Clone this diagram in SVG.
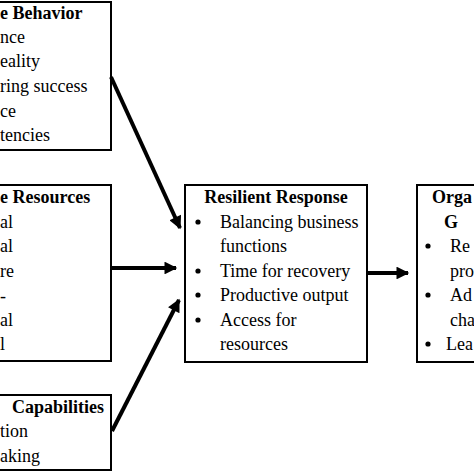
<svg xmlns="http://www.w3.org/2000/svg" width="474" height="474" viewBox="0 0 474 474">
<style>
.box{fill:#fff;stroke:#000;stroke-width:2}
.t{font-family:"Liberation Serif","Times New Roman",serif;font-size:18px;fill:#000}
.b{font-weight:bold}
.c{text-anchor:middle}
.bul{fill:#000}
.ar{stroke:#000;stroke-width:4;fill:none}
</style>
<defs>
<marker id="ah" viewBox="0 0 10 10" refX="9" refY="5" markerWidth="3.6" markerHeight="3.2" orient="auto" markerUnits="strokeWidth">
<path d="M0,0 L10,5 L0,10 Z" fill="#000"/>
</marker>
</defs>
<rect width="474" height="474" fill="#fff"/>
<g id="behavior">
<rect class="box" x="-10" y="2" width="121" height="148"/>
<text class="t b" x="0" y="19">e Behavior</text>
<text class="t" x="0" y="43">nce</text>
<text class="t" x="0" y="67">eality</text>
<text class="t" x="0" y="92">ring success</text>
<text class="t" x="0" y="117">ce</text>
<text class="t" x="0" y="141">tencies</text>
</g>
<g id="resources">
<rect class="box" x="-10" y="185" width="121" height="176"/>
<text class="t b" x="0" y="203">e Resources</text>
<text class="t" x="0" y="228">al</text>
<text class="t" x="0" y="252">al</text>
<text class="t" x="0" y="277">re</text>
<text class="t" x="0" y="302">-</text>
<text class="t" x="0" y="326">al</text>
<text class="t" x="0" y="350">l</text>
</g>
<g id="capabilities">
<rect class="box" x="-10" y="395" width="121" height="75"/>
<text class="t b" x="12" y="413">Capabilities</text>
<text class="t" x="0" y="437">tion</text>
<text class="t" x="0" y="462">aking</text>
</g>
<g id="resilient">
<rect class="box" x="185" y="185" width="182" height="177"/>
<text class="t b c" x="276" y="203">Resilient Response</text>
<circle class="bul" cx="198" cy="222" r="2.6"/>
<text class="t" x="220" y="228">Balancing business</text>
<text class="t" x="220" y="252">functions</text>
<circle class="bul" cx="198" cy="271" r="2.6"/>
<text class="t" x="220" y="277">Time for recovery</text>
<circle class="bul" cx="198" cy="295" r="2.6"/>
<text class="t" x="220" y="301">Productive output</text>
<circle class="bul" cx="198" cy="320" r="2.6"/>
<text class="t" x="220" y="326">Access for</text>
<text class="t" x="220" y="350">resources</text>
</g>
<g id="growth">
<rect class="box" x="417" y="185" width="80" height="177"/>
<text class="t b" x="432" y="203">Orga</text>
<text class="t b" x="444" y="228">G</text>
<circle class="bul" cx="428" cy="246" r="2.6"/>
<text class="t" x="450" y="252">Re</text>
<text class="t" x="450" y="277">pro</text>
<circle class="bul" cx="428" cy="295" r="2.6"/>
<text class="t" x="450" y="301">Ad</text>
<text class="t" x="450" y="326">cha</text>
<circle class="bul" cx="428" cy="344" r="2.6"/>
<text class="t" x="446" y="350">Lea</text>
</g>
<g id="connectors">
<line class="ar" x1="111" y1="77" x2="180" y2="228" marker-end="url(#ah)"/>
<line class="ar" x1="112" y1="268" x2="176" y2="268" marker-end="url(#ah)"/>
<line class="ar" x1="112" y1="431" x2="179" y2="300" marker-end="url(#ah)"/>
<line class="ar" x1="367" y1="273" x2="408" y2="273" marker-end="url(#ah)"/>
</g>
</svg>
